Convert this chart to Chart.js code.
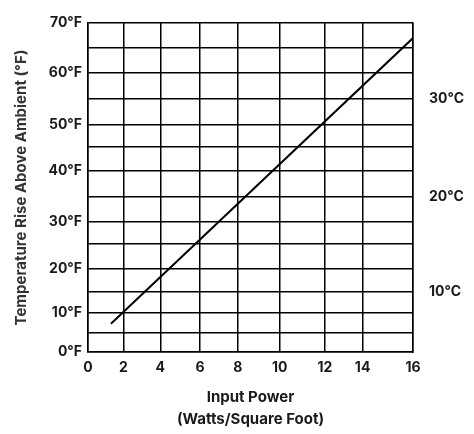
<!DOCTYPE html>
<html>
<head>
<meta charset="utf-8">
<script src="https://cdn.jsdelivr.net/npm/chart.js@4.4.0/dist/chart.umd.min.js"></script>
<style>
  html, body { margin: 0; padding: 0; background: #fff; }
  #wrap { width: 474px; height: 434px; }
</style>
</head>
<body>
<div id="wrap"><canvas id="chart"></canvas></div>
<script>
// the printed grid is uneven, so gridlines sit at measured positions on a 0-16 / 0-70 scale
const xGrid = [0, 1.74, 3.56, 5.52, 7.38, 9.44, 11.66, 13.52, 16]
const xLabels = ["0", "2", "4", "6", "8", "10", "12", "14", "16"]

const yGrid = [0, 4.2, 8.35, 12.9, 17.8, 23.1, 27.8, 33.1, 38.6, 43.6, 48.3, 53.8, 59.4, 64.7, 70]
const yLabelsF = ["0°F", "", "10°F", "", "20°F", "", "30°F", "", "40°F", "", "50°F", "", "60°F", "", "70°F"]
const yLabelsC = ["", "", "", "10°C", "", "", "", "20°C", "", "", "", "30°C", "", "", ""]

// the plotted line (two ends)
const lineX = [1.13, 16]
const lineY = [6.0, 66.8]

const font = { family: "Inter, 'DejaVu Sans', sans-serif", size: 14, weight: "bold" }
const ink = "#1a1a1a"

function fixTicks(values) {
  return scale => { scale.ticks = values.map(v => ({ value: v })) }
}

new Chart(document.getElementById("chart"), {
  type: "line",
  data: {
    datasets: [{
      data: lineX.map((x, i) => ({ x, y: lineY[i] })),
      borderColor: "#000",
      borderWidth: 2,
      pointRadius: 0,
      fill: false
    }]
  },
  options: {
    responsive: true,
    maintainAspectRatio: false,
    animation: false,
    layout: { padding: { top: 23, left: 0, right: 0, bottom: 0 } },
    plugins: { legend: { display: false }, tooltip: { enabled: false } },
    scales: {
      x: {
        type: "linear",
        min: 0,
        max: 16,
        afterBuildTicks: fixTicks(xGrid),
        afterFit: s => { s.height = 82 },
        grid: { color: "#000", lineWidth: 1.5, drawTicks: false },
        border: { color: "#000", width: 1.5 },
        ticks: { color: ink, font, padding: 7, maxRotation: 0, autoSkip: false,
          callback: (v, i) => xLabels[i] },
        title: { display: true, text: ["Input Power", "(Watts/Square Foot)"], color: ink,
          font: { ...font, size: 15, lineHeight: 1.45 }, padding: { top: 16 } }
      },
      y: {
        type: "linear",
        min: 0,
        max: 70,
        afterBuildTicks: fixTicks(yGrid),
        afterFit: s => { s.width = 88 },
        grid: { color: "#000", lineWidth: 1.5, drawTicks: false },
        border: { color: "#000", width: 1.5 },
        ticks: { color: ink, font, padding: 6, autoSkip: false,
          callback: (v, i) => yLabelsF[i] },
        title: { display: true, text: "Temperature Rise Above Ambient (°F)", color: "#333",
          font: { ...font, size: 15 }, padding: { top: 12, bottom: 0 } }
      },
      y2: {
        type: "linear",
        position: "right",
        min: 0,
        max: 70,
        afterBuildTicks: fixTicks(yGrid),
        afterFit: s => { s.width = 61 },
        grid: { display: false },
        border: { color: "#000", width: 1.5 },
        ticks: { color: ink, font, padding: 8, autoSkip: false,
          callback: (v, i) => yLabelsC[i] }
      }
    }
  }
})
</script>
</body>
</html>
